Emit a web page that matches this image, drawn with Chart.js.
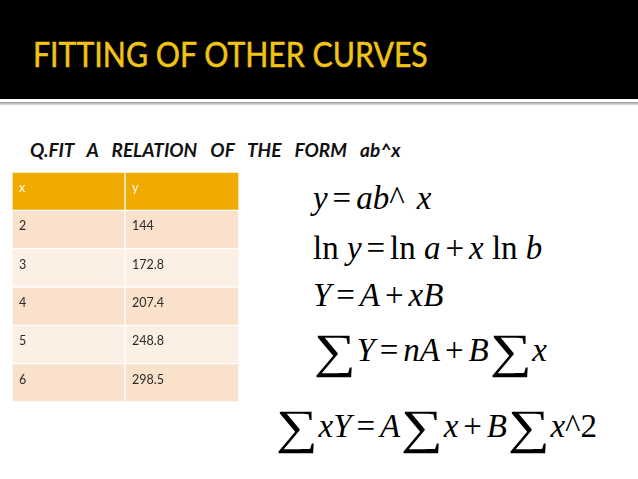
<!DOCTYPE html>
<html lang="en">
<head>
    <meta charset="UTF-8">
    <title>Fitting of other curves</title>
    <script src="https://cdn.jsdelivr.net/npm/chart.js"></script>
    <style>
        body { margin: 0; width: 638px; height: 479px; background: #fff; position: relative; overflow: hidden; }
        .band { position: absolute; left: 0; top: 0; width: 638px; height: 99px; background: #000; }
        .rule { position: absolute; left: 0; top: 102px; width: 638px; height: 3px; background: linear-gradient(#9a9a9a, #e0e0e0); }
        .title { position: absolute; left: 33px; top: 37px; font: 34px Lato, sans-serif; line-height: 1; color: #f2c414; white-space: nowrap;
                 -webkit-text-stroke: 0.5px #f2c414; transform: scaleX(0.89); transform-origin: left top; }
        .question { position: absolute; left: 30px; top: 140px; font: italic bold 19px Lato, sans-serif; line-height: 1; color: #111; white-space: nowrap; word-spacing: 9px; }
        .table-box { position: absolute; left: 12px; top: 172px; width: 227px; height: 230px; }
        .eq { position: absolute; font: 33px "Liberation Serif", serif; line-height: 1; color: #000; white-space: nowrap; }
        .eq i { font-style: italic; }
        .op { margin: 0 0.15em; }
        .sum { display: inline-block; font-size: 1.46em; line-height: 0; vertical-align: -0.12em; margin: 0 0.17em 0 0.02em;
               transform: scaleX(1.22); transform-origin: left center; }
        .gap { margin-left: 0.12em; }
    </style>
</head>
<body>
    <div class="band"></div>
    <div class="rule"></div>
    <div class="title">FITTING OF OTHER CURVES</div>
    <div class="question">Q.FIT A RELATION OF THE FORM ab^x</div>

    <div class="table-box"><canvas id="tableChart" width="227" height="230"></canvas></div>

    <div class="eq" style="left:313px; top:182px;"><i>y</i><span class="op">=</span><i>ab</i>^ <i class="gap">x</i></div>
    <div class="eq" style="left:313px; top:232px;">ln <i>y</i><span class="op">=</span>ln <i>a</i><span class="op">+</span><i>x</i> ln <i>b</i></div>
    <div class="eq" style="left:313px; top:279px;"><i>Y</i><span class="op">=</span><i>A</i><span class="op">+</span><i>xB</i></div>
    <div class="eq" style="left:313px; top:334px;"><span class="sum">&sum;</span><i>Y</i><span class="op">=</span><i>nA</i><span class="op">+</span><i>B</i><span class="sum">&sum;</span><i>x</i></div>
    <div class="eq" style="left:275px; top:410px;"><span class="sum">&sum;</span><i>xY</i><span class="op">=</span><i>A</i><span class="sum">&sum;</span><i>x</i><span class="op">+</span><i>B</i><span class="sum">&sum;</span><i>x</i>^2</div>

    <script>
        // dati della tabella
        const headers = ['x', 'y'];
        const xValues = [2, 3, 4, 5, 6];
        const yValues = [144, 172.8, 207.4, 248.8, 298.5];

        const rows = ['header', ...xValues.map(String)];
        const colSpan = [113, 114];
        const rowColors = rows.map((r, i) => i === 0 ? '#f0aa00' : (i % 2 === 1 ? '#fae1cb' : '#fcefe4'));

        // scrive il testo dentro ogni cella
        const cellText = {
            id: 'cellText',
            afterDatasetsDraw(chart) {
                const ctx = chart.ctx;
                ctx.save();
                ctx.font = '12.5px Lato, sans-serif';
                ctx.textBaseline = 'middle';
                chart.data.datasets.forEach((ds, col) => {
                    chart.getDatasetMeta(col).data.forEach((bar, row) => {
                        const p = bar.getProps(['x', 'base', 'y', 'height'], true);
                        const left = Math.min(p.x, p.base);
                        let text;
                        if (row === 0) {
                            text = headers[col];
                            ctx.fillStyle = '#ffffff';
                        } else {
                            text = String(col === 0 ? xValues[row - 1] : yValues[row - 1]);
                            ctx.fillStyle = '#2a2a2a';
                        }
                        ctx.fillText(text, left + 7, p.y - p.height / 2 + 16);
                    });
                });
                ctx.restore();
            }
        };

        const tableChart = new Chart(document.getElementById('tableChart').getContext('2d'), {
            type: 'bar',
            data: {
                labels: rows,
                datasets: headers.map((h, col) => ({
                    label: h,
                    data: rows.map(() => colSpan[col]),
                    backgroundColor: rowColors,
                    borderColor: '#ffffff',
                    borderWidth: 1,
                    borderSkipped: false,
                    barPercentage: 1,
                    categoryPercentage: 1
                }))
            },
            options: {
                indexAxis: 'y',
                responsive: false,
                animation: false,
                layout: { padding: 0 },
                plugins: { legend: { display: false }, tooltip: { enabled: false } },
                scales: {
                    x: { stacked: true, display: false, min: 0, max: 227 },
                    y: { stacked: true, display: false }
                }
            },
            plugins: [cellText]
        });
    </script>
</body>
</html>
